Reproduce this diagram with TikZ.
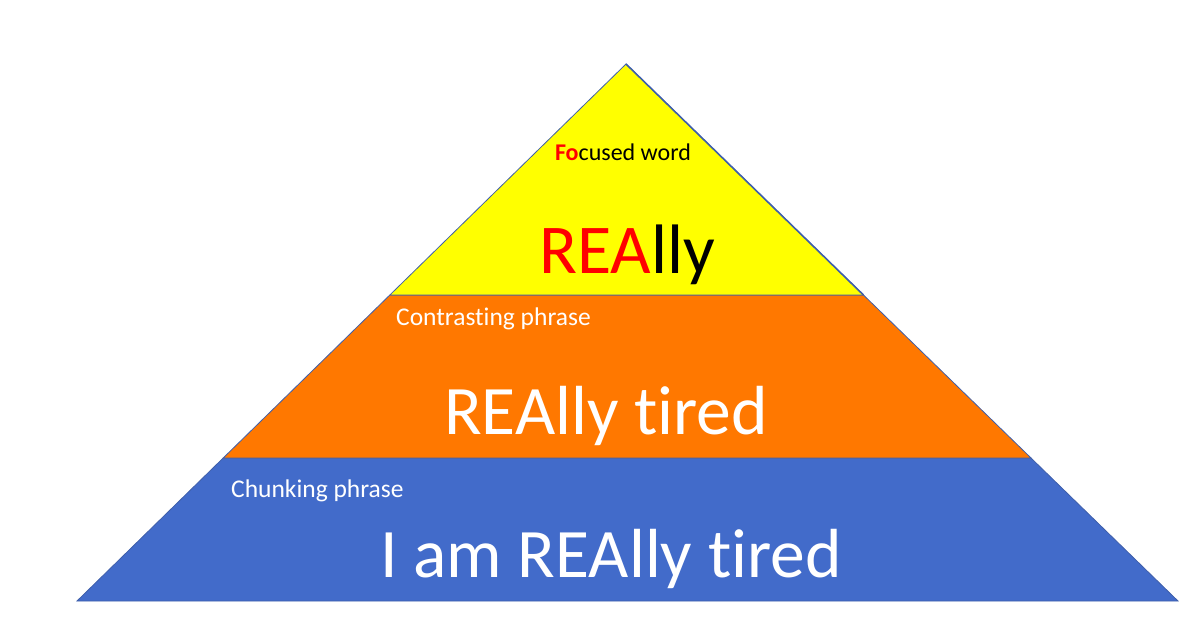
\documentclass[tikz,border=0pt]{standalone}
\usepackage{fontspec}
\setmainfont[Ligatures=NoCommon]{Carlito}
\usetikzlibrary{calc}
\definecolor{amarelo}{HTML}{FFFF00}
\definecolor{laranja}{HTML}{FF7800}
\definecolor{azul}{HTML}{426BCA}
\definecolor{contorno}{HTML}{3F5FAA}
\tikzset{
faixa/.style = {draw=contorno, line width=0.8pt, line join=miter}
                }
\tikzset{
rotulo/.style = {anchor=base west, inner sep=0pt, font=\fontsize{25.5}{30}\selectfont},
frase/.style = {anchor=base, inner sep=0pt, font=\fontsize{69.5}{80}\selectfont}
         }
\begin{document}
\begin{tikzpicture}[x=1pt,y=-1pt]
        \useasboundingbox (0,0) rectangle (1195,623);

        % piramide
        \coordinate (topo) at (626,64);
        \coordinate (BE) at (77,601);
        \coordinate (BD) at (1178,601);
        \coordinate (ME) at ($(topo)!0.430!(BE)$);
        \coordinate (MD) at ($(topo)!0.430!(BD)$);
        \coordinate (IE) at ($(topo)!0.7337!(BE)$);
        \coordinate (ID) at ($(topo)!0.7337!(BD)$);

        \draw[faixa, fill=azul] (IE) -- (ID) -- (BD) -- (BE) -- cycle;
        \draw[faixa, fill=laranja] (ME) -- (MD) -- (ID) -- (IE) -- cycle;
        \draw[faixa, fill=amarelo] (topo) -- (MD) -- (ME) -- cycle;
        \draw[contorno, line width=1.6pt] (topo) -- (MD);

        % textos
        \node[rotulo, anchor=base, font=\fontsize{24}{28}\selectfont] (foco) at (623,161) {\textbf{\color{red}Fo}cused word};
        \node[frase, font=\fontsize{70}{80}\selectfont] (palavra) at (627,273) {\color{red}REA\color{black}lly};

        \node[rotulo, text=white] (contraste) at (396,325) {Contrasting phrase};
        \node[frase, text=white] (meio) at (606,434) {REAlly tired};

        \node[rotulo, text=white] (bloco) at (231,497) {Chunking phrase};
        \node[frase, text=white] (base) at (611,577) {I am REAlly tired};
    \end{tikzpicture}
\end{document}
